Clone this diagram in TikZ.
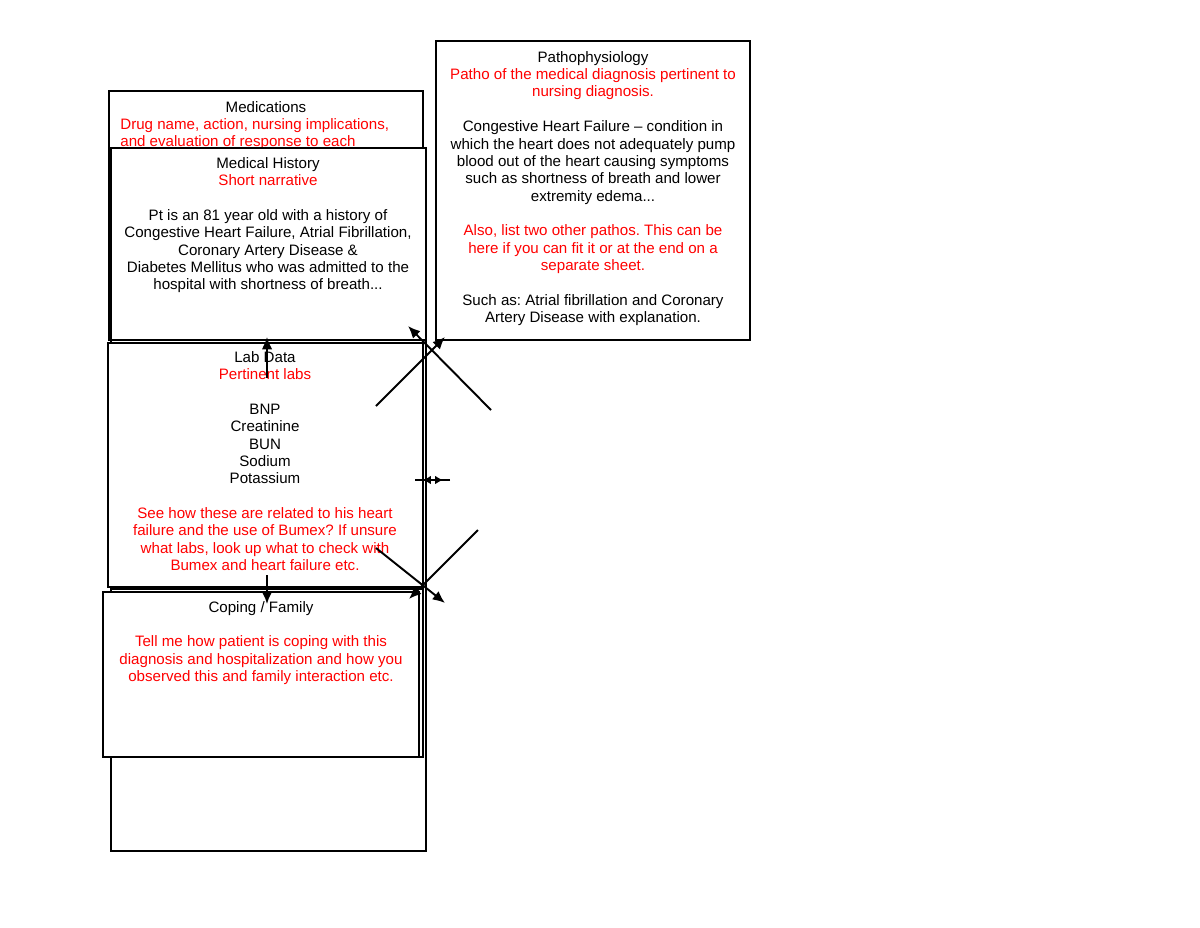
\documentclass[tikz,border=0pt]{standalone}
\usepackage{fontspec}
\setmainfont{Liberation Sans}
\usetikzlibrary{arrows.meta}
\frenchspacing
\newcommand{\redline}[1]{\textcolor{red}{#1}}
\tikzset{
  box/.style={draw, line width=1.1pt, fill=white},
  txt/.style={inner sep=0pt, align=center, anchor=north, font=\fontsize{8.6}{9.87}\selectfont},
  conn/.style={line width=1.1pt, -{Latex[length=7pt,width=6pt]}},
  smallconn/.style={line width=1.1pt, -{Latex[length=4.5pt,width=5pt]}}
}
\begin{document}
\begin{tikzpicture}[x=0.02cm, y=-0.02cm]
	\useasboundingbox (0,0) rectangle (1200,927);
	
	% medications, half hidden
	\draw[box] (109,91) rectangle (423,340);
	\node[txt] (medhead) at (266,101) {Medications};
	\node[txt, anchor=north west, align=left, text=red] (medtxt) at (120,118) {Drug name, action, nursing implications,\\and evaluation of response to each};
	
	% frames behind
	\draw[box] (111,148) rectangle (426,851);
	\draw[box] (111,148) rectangle (426,340);
	\node[txt] (hist) at (268,157) {Medical History\\\redline{Short narrative}\\[9.87pt]
		Pt is an 81 year old with a history of\\Congestive Heart Failure, Atrial Fibrillation,\\Coronary Artery Disease \&\\Diabetes Mellitus who was admitted to the\\hospital with shortness of breath...};
	
	\draw[box] (108,343) rectangle (423,587);
	\node[txt] (lab) at (265,351) {Lab Data\\\redline{Pertinent labs}\\[9.87pt]
		BNP\\Creatinine\\BUN\\Sodium\\Potassium\\[9.87pt]
		\redline{See how these are related to his heart}\\\redline{failure and the use of Bumex? If unsure}\\\redline{what labs, look up what to check with}\\\redline{Bumex and heart failure etc.}};
	
	\draw[box] (111,589) rectangle (423,757);
	\draw[box] (103,592) rectangle (419,757);
	\node[txt] (coping) at (261,601) {Coping / Family\\[9.87pt]
		\redline{Tell me how patient is coping with this}\\\redline{diagnosis and hospitalization and how you}\\\redline{observed this and family interaction etc.}};
	
	\draw[box] (436,41) rectangle (750,340);
	\node[txt] (patho) at (593,51) {Pathophysiology\\\redline{Patho of the medical diagnosis pertinent to}\\\redline{nursing diagnosis.}\\[9.87pt]
		Congestive Heart Failure -- condition in\\which the heart does not adequately pump\\blood out of the heart causing symptoms\\such as shortness of breath and lower\\extremity edema...\\[9.87pt]
		\redline{Also, list two other pathos. This can be}\\\redline{here if you can fit it or at the end on a}\\\redline{separate sheet.}\\[9.87pt]
		Such as: Atrial fibrillation and Coronary\\Artery Disease with explanation.};
	
	% loose arrows
	\foreach \n/\x/\y in {up0/267/378, up1/267/337, dn0/267/575, dn1/267/604,
		ne0/376/406, ne1/445/337, nw0/491/410, nw1/408/326,
		lt0/450/480, lt1/423/480, rt0/415/480, rt1/443/480,
		se0/376/548, se1/445/603, sw0/478/530, sw1/409/599}
	{
		\coordinate (\n) at (\x,\y);
	}
	\foreach \s/\e in {up0/up1, dn0/dn1, ne0/ne1, nw0/nw1, se0/se1, sw0/sw1}
	{
		\draw[conn] (\s) -- (\e);
	}
	\draw[smallconn] (lt0) -- (lt1);
	\draw[smallconn] (rt0) -- (rt1);
\end{tikzpicture}
\end{document}
